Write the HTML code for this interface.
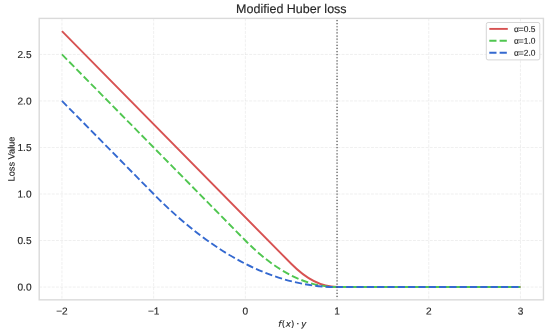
<!DOCTYPE html>
<html><head><meta charset="utf-8"><style>html,body{margin:0;padding:0;background:#fff;width:550px;height:334px;overflow:hidden}svg{display:block}</style></head>
<body><svg width="550" height="334" viewBox="0 0 550 334">
<rect width="550" height="334" fill="#fff"/>
<path d="M61.95 18.40V299.85M153.65 18.40V299.85M245.35 18.40V299.85M337.05 18.40V299.85M428.75 18.40V299.85M520.45 18.40V299.85M39.20 287.05H543.45M39.20 240.53H543.45M39.20 194.00H543.45M39.20 147.48H543.45M39.20 100.95H543.45M39.20 54.43H543.45" stroke="#dddddd" stroke-width="0.8" stroke-dasharray="2.9 1.3" fill="none" opacity="0.6"/>
<path d="M61.950 31.163L291.200 263.788Q314.125 287.050 337.050 287.050L520.450 287.050" stroke="#d75252" stroke-width="1.9" fill="none" stroke-linejoin="round"/>
<path d="M61.950 54.425L245.350 240.525Q291.200 287.050 337.050 287.050L520.450 287.050" stroke="#50c650" stroke-width="1.9" fill="none" stroke-linejoin="round" stroke-dasharray="7.2 3.12"/>
<path d="M61.950 100.950L153.650 194.000Q245.350 287.050 337.050 287.050L520.450 287.050" stroke="#3469d0" stroke-width="1.9" fill="none" stroke-linejoin="round" stroke-dasharray="7.2 3.12"/>
<path d="M337.05 299.85V18.40" stroke="#505050" stroke-width="1.2" stroke-dasharray="1.2 1.9" stroke-dashoffset="0.3" fill="none"/>
<rect x="39.2" y="18.4" width="504.25" height="281.45" fill="none" stroke="#dadada" stroke-width="1.4"/>
<text x="61.95" y="314.6" font-family="Liberation Sans, Arial, sans-serif" stroke="#262626" stroke-width="0.15" rotate="0.05" font-size="10.1" fill="#262626" text-anchor="middle">−2</text>
<text x="153.65" y="314.6" font-family="Liberation Sans, Arial, sans-serif" stroke="#262626" stroke-width="0.15" rotate="0.05" font-size="10.1" fill="#262626" text-anchor="middle">−1</text>
<text x="245.35" y="314.6" font-family="Liberation Sans, Arial, sans-serif" stroke="#262626" stroke-width="0.15" rotate="0.05" font-size="10.1" fill="#262626" text-anchor="middle">0</text>
<text x="337.05" y="314.6" font-family="Liberation Sans, Arial, sans-serif" stroke="#262626" stroke-width="0.15" rotate="0.05" font-size="10.1" fill="#262626" text-anchor="middle">1</text>
<text x="428.75" y="314.6" font-family="Liberation Sans, Arial, sans-serif" stroke="#262626" stroke-width="0.15" rotate="0.05" font-size="10.1" fill="#262626" text-anchor="middle">2</text>
<text x="520.45" y="314.6" font-family="Liberation Sans, Arial, sans-serif" stroke="#262626" stroke-width="0.15" rotate="0.05" font-size="10.1" fill="#262626" text-anchor="middle">3</text>
<text x="31.5" y="290.62" font-family="Liberation Sans, Arial, sans-serif" stroke="#262626" stroke-width="0.15" rotate="0.05" font-size="10.1" fill="#262626" text-anchor="end">0.0</text>
<text x="31.5" y="244.09" font-family="Liberation Sans, Arial, sans-serif" stroke="#262626" stroke-width="0.15" rotate="0.05" font-size="10.1" fill="#262626" text-anchor="end">0.5</text>
<text x="31.5" y="197.57" font-family="Liberation Sans, Arial, sans-serif" stroke="#262626" stroke-width="0.15" rotate="0.05" font-size="10.1" fill="#262626" text-anchor="end">1.0</text>
<text x="31.5" y="151.05" font-family="Liberation Sans, Arial, sans-serif" stroke="#262626" stroke-width="0.15" rotate="0.05" font-size="10.1" fill="#262626" text-anchor="end">1.5</text>
<text x="31.5" y="104.52" font-family="Liberation Sans, Arial, sans-serif" stroke="#262626" stroke-width="0.15" rotate="0.05" font-size="10.1" fill="#262626" text-anchor="end">2.0</text>
<text x="31.5" y="58.00" font-family="Liberation Sans, Arial, sans-serif" stroke="#262626" stroke-width="0.15" rotate="0.05" font-size="10.1" fill="#262626" text-anchor="end">2.5</text>
<text x="291.33" y="13.1" font-family="Liberation Sans, Arial, sans-serif" stroke="#262626" stroke-width="0.15" rotate="0.05" font-size="12.5" fill="#262626" text-anchor="middle">Modified Huber loss</text>
<text transform="translate(14.4 159) rotate(-90)" font-family="Liberation Sans, Arial, sans-serif" stroke="#262626" stroke-width="0.15" rotate="0.05" font-size="9.2" fill="#262626" text-anchor="middle">Loss Value</text>
<text y="326.8" font-family="DejaVu Sans, sans-serif" font-size="8.6" fill="#262626" stroke="#262626" stroke-width="0.15" rotate="0.05"><tspan x="278.3" font-style="oblique">f</tspan><tspan x="281.8">(</tspan><tspan x="285.8" font-style="oblique">x</tspan><tspan x="291.0">)</tspan><tspan x="296.3" y="326.90" font-size="9.6" stroke-width="0.2">·</tspan><tspan x="301.3" y="326.8" font-style="oblique">y</tspan></text>
<rect x="486.3" y="22.5" width="53.5" height="37.4" rx="1.8" fill="#fff" fill-opacity="0.8" stroke="#d6d6d6" stroke-width="1"/>
<path d="M489.3 28.90H507.8" stroke="#d75252" stroke-width="1.9"/>
<text x="514.0" y="31.90" font-family="Liberation Sans, Arial, sans-serif" stroke="#262626" stroke-width="0.15" rotate="0.05" font-size="8.4" fill="#262626">α=0.5</text>
<path d="M489.3 40.80H507.8" stroke="#50c650" stroke-width="1.9" stroke-dasharray="7.2 3.12"/>
<text x="514.0" y="43.80" font-family="Liberation Sans, Arial, sans-serif" stroke="#262626" stroke-width="0.15" rotate="0.05" font-size="8.4" fill="#262626">α=1.0</text>
<path d="M489.3 52.70H507.8" stroke="#3469d0" stroke-width="1.9" stroke-dasharray="7.2 3.12"/>
<text x="514.0" y="55.70" font-family="Liberation Sans, Arial, sans-serif" stroke="#262626" stroke-width="0.15" rotate="0.05" font-size="8.4" fill="#262626">α=2.0</text>
</svg></body></html>
